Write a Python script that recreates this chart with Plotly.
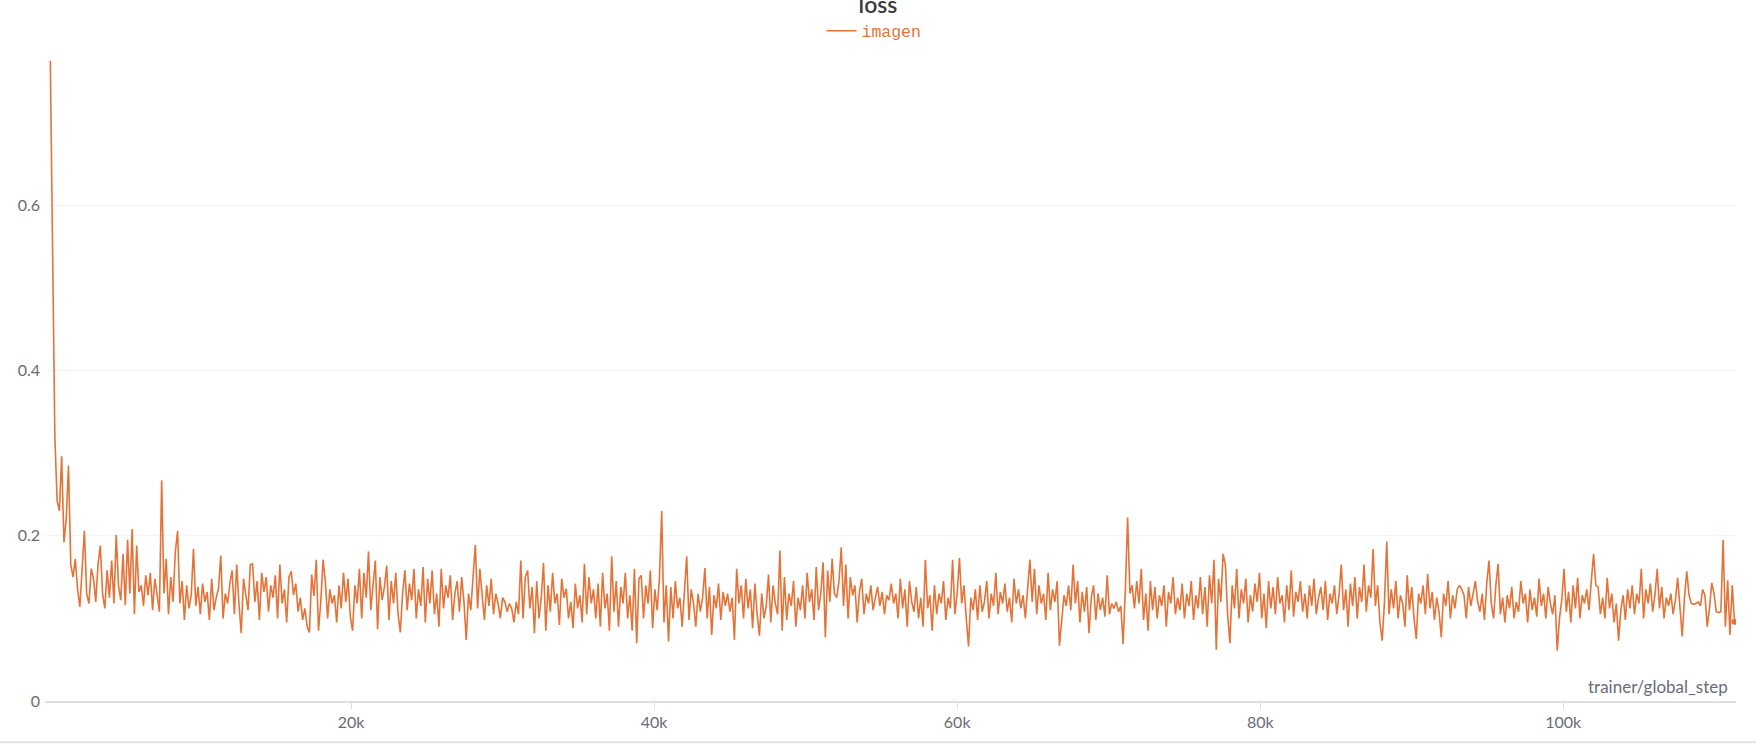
import plotly.graph_objects as go

# logged every 150 steps, first log at step 150
step_start = 150
step_every = 150

loss = [
    0.775, 0.52, 0.32, 0.242, 0.23, 0.296, 0.192, 0.22, 0.285, 0.165, 0.15, 0.172, 0.135, 0.114, 0.155, 0.206, 0.13, 0.118, 0.16, 0.148,
    0.12, 0.165, 0.188, 0.13, 0.112, 0.158, 0.125, 0.17, 0.118, 0.201, 0.14, 0.122, 0.178, 0.116, 0.195, 0.13, 0.208, 0.105, 0.188, 0.132,
    0.14, 0.115, 0.152, 0.128, 0.155, 0.11, 0.148, 0.125, 0.108, 0.267, 0.13, 0.172, 0.105, 0.15, 0.12, 0.18, 0.206, 0.118, 0.145, 0.098,
    0.14, 0.112, 0.128, 0.184, 0.115, 0.138, 0.105, 0.142, 0.12, 0.132, 0.098, 0.148, 0.11, 0.125, 0.136, 0.176, 0.1, 0.13, 0.118, 0.142,
    0.158, 0.105, 0.165, 0.118, 0.082, 0.148, 0.13, 0.11, 0.165, 0.166, 0.12, 0.145, 0.098, 0.155, 0.132, 0.15, 0.108, 0.14, 0.125, 0.152,
    0.1, 0.165, 0.118, 0.135, 0.095, 0.15, 0.157, 0.128, 0.142, 0.108, 0.125, 0.098, 0.112, 0.09, 0.083, 0.153, 0.127, 0.171, 0.085, 0.12,
    0.171, 0.145, 0.1, 0.135, 0.118, 0.128, 0.095, 0.14, 0.112, 0.155, 0.12, 0.148, 0.102, 0.085, 0.14, 0.118, 0.16, 0.1, 0.155, 0.125,
    0.181, 0.11, 0.14, 0.17, 0.087, 0.15, 0.122, 0.138, 0.164, 0.098, 0.145, 0.118, 0.155, 0.105, 0.083, 0.13, 0.158, 0.11, 0.142, 0.122,
    0.16, 0.1, 0.135, 0.115, 0.162, 0.095, 0.148, 0.118, 0.158, 0.105, 0.13, 0.09, 0.16, 0.112, 0.14, 0.125, 0.152, 0.098, 0.13, 0.145,
    0.108, 0.15, 0.12, 0.074, 0.13, 0.11, 0.15, 0.189, 0.112, 0.16, 0.128, 0.098, 0.14, 0.115, 0.148, 0.105, 0.13, 0.118, 0.1, 0.125,
    0.12, 0.108, 0.118, 0.112, 0.095, 0.12, 0.105, 0.17, 0.1, 0.15, 0.158, 0.112, 0.138, 0.082, 0.145, 0.1, 0.125, 0.167, 0.085, 0.14,
    0.108, 0.155, 0.118, 0.13, 0.092, 0.148, 0.125, 0.136, 0.1, 0.12, 0.088, 0.142, 0.112, 0.128, 0.095, 0.166, 0.105, 0.15, 0.118, 0.135,
    0.1, 0.142, 0.09, 0.155, 0.112, 0.13, 0.085, 0.175, 0.108, 0.145, 0.09, 0.138, 0.118, 0.155, 0.1, 0.128, 0.085, 0.16, 0.07, 0.148,
    0.152, 0.1, 0.14, 0.118, 0.158, 0.088, 0.135, 0.11, 0.148, 0.23, 0.095, 0.14, 0.072, 0.138, 0.1, 0.145, 0.112, 0.125, 0.09, 0.14,
    0.175, 0.098, 0.135, 0.118, 0.09, 0.13, 0.108, 0.125, 0.161, 0.1, 0.138, 0.08, 0.128, 0.112, 0.142, 0.098, 0.132, 0.115, 0.13, 0.108,
    0.125, 0.074, 0.16, 0.118, 0.14, 0.1, 0.148, 0.112, 0.135, 0.088, 0.142, 0.105, 0.079, 0.13, 0.1, 0.115, 0.153, 0.095, 0.14, 0.118,
    0.105, 0.182, 0.085, 0.15, 0.098, 0.13, 0.115, 0.145, 0.09, 0.125, 0.11, 0.14, 0.1, 0.155, 0.12, 0.135, 0.098, 0.162, 0.11, 0.13,
    0.168, 0.077, 0.158, 0.12, 0.172, 0.13, 0.125, 0.145, 0.186, 0.115, 0.165, 0.1, 0.15, 0.128, 0.14, 0.095, 0.132, 0.148, 0.105, 0.13,
    0.118, 0.14, 0.11, 0.125, 0.138, 0.115, 0.132, 0.105, 0.128, 0.122, 0.142, 0.118, 0.13, 0.1, 0.148, 0.112, 0.135, 0.09, 0.145, 0.12,
    0.108, 0.138, 0.1, 0.125, 0.09, 0.171, 0.112, 0.128, 0.085, 0.14, 0.105, 0.13, 0.118, 0.145, 0.098, 0.125, 0.112, 0.171, 0.105, 0.13,
    0.173, 0.118, 0.14, 0.1, 0.066, 0.125, 0.11, 0.135, 0.098, 0.14, 0.108, 0.12, 0.145, 0.1, 0.13, 0.115, 0.155, 0.105, 0.132, 0.118,
    0.142, 0.108, 0.125, 0.095, 0.148, 0.118, 0.135, 0.112, 0.128, 0.1, 0.138, 0.171, 0.12, 0.16, 0.105, 0.14, 0.118, 0.13, 0.098, 0.155,
    0.11, 0.135, 0.12, 0.145, 0.067, 0.1, 0.128, 0.115, 0.14, 0.11, 0.165, 0.118, 0.145, 0.095, 0.132, 0.108, 0.138, 0.082, 0.125, 0.14,
    0.098, 0.13, 0.11, 0.125, 0.102, 0.152, 0.105, 0.118, 0.112, 0.12, 0.108, 0.115, 0.069, 0.135, 0.222, 0.13, 0.14, 0.112, 0.145, 0.118,
    0.16, 0.098, 0.13, 0.085, 0.145, 0.11, 0.138, 0.1, 0.128, 0.115, 0.14, 0.09, 0.132, 0.118, 0.15, 0.105, 0.125, 0.11, 0.142, 0.1,
    0.13, 0.115, 0.145, 0.098, 0.128, 0.112, 0.15, 0.105, 0.138, 0.09, 0.152, 0.118, 0.171, 0.062, 0.148, 0.12, 0.178, 0.165, 0.105, 0.07,
    0.14, 0.112, 0.16, 0.1, 0.135, 0.118, 0.148, 0.095, 0.128, 0.108, 0.142, 0.12, 0.155, 0.1, 0.13, 0.088, 0.145, 0.112, 0.138, 0.105,
    0.15, 0.118, 0.128, 0.095, 0.14, 0.11, 0.158, 0.102, 0.132, 0.12, 0.145, 0.108, 0.13, 0.1, 0.14, 0.115, 0.148, 0.105, 0.125, 0.138,
    0.11, 0.145, 0.098, 0.13, 0.118, 0.14, 0.105, 0.128, 0.165, 0.11, 0.135, 0.09, 0.142, 0.115, 0.15, 0.1, 0.138, 0.12, 0.165, 0.108,
    0.14, 0.125, 0.184, 0.115, 0.14, 0.095, 0.073, 0.12, 0.193, 0.105, 0.135, 0.112, 0.145, 0.1, 0.128, 0.118, 0.09, 0.152, 0.11, 0.138,
    0.1, 0.075, 0.13, 0.118, 0.14, 0.105, 0.154, 0.112, 0.132, 0.098, 0.125, 0.108, 0.077, 0.13, 0.115, 0.145, 0.1, 0.128, 0.112, 0.135,
    0.14, 0.135, 0.128, 0.1, 0.138, 0.115, 0.132, 0.145, 0.12, 0.108, 0.13, 0.098, 0.142, 0.17, 0.118, 0.1, 0.14, 0.166, 0.105, 0.125,
    0.095, 0.128, 0.112, 0.138, 0.1, 0.12, 0.108, 0.145, 0.118, 0.13, 0.095, 0.135, 0.11, 0.125, 0.102, 0.148, 0.115, 0.13, 0.1, 0.138,
    0.118, 0.105, 0.128, 0.061, 0.1, 0.122, 0.16, 0.108, 0.132, 0.095, 0.14, 0.112, 0.149, 0.1, 0.128, 0.118, 0.135, 0.11, 0.145, 0.178,
    0.14, 0.138, 0.105, 0.125, 0.1, 0.149, 0.112, 0.13, 0.095, 0.118, 0.073, 0.11, 0.128, 0.098, 0.135, 0.112, 0.14, 0.105, 0.13, 0.118,
    0.16, 0.1, 0.135, 0.118, 0.142, 0.108, 0.128, 0.16, 0.112, 0.138, 0.1, 0.125, 0.115, 0.13, 0.105, 0.122, 0.149, 0.11, 0.078, 0.125,
    0.157, 0.128, 0.118, 0.117, 0.118, 0.12, 0.115, 0.135, 0.128, 0.09, 0.112, 0.143, 0.13, 0.108, 0.107, 0.108, 0.195, 0.09, 0.146, 0.08,
    0.14, 0.096,
]

steps = [step_start + i * step_every for i in range(len(loss))]

x_tickvals = [20000, 40000, 60000, 80000, 100000]
x_ticktext = ["20k", "40k", "60k", "80k", "100k"]
y_tickvals = [0, 0.2, 0.4, 0.6]

run_name = "imagen"
orange = "rgb(229,115,55)"
grey = "#6b6b76"

fig = go.Figure()
fig.add_trace(go.Scatter(x=steps, y=loss, mode="lines", name=run_name,
                         line=dict(color=orange, width=1.6)))
# dot on the last logged point
fig.add_trace(go.Scatter(x=steps[-1:], y=loss[-1:], mode="markers", showlegend=False,
                         marker=dict(color=orange, size=6)))

fig.update_layout(
    width=1756, height=746,
    plot_bgcolor="white", paper_bgcolor="white",
    margin=dict(l=45, r=20, t=50, b=45),
    font=dict(family="Lato, Noto Sans, sans-serif", color=grey, size=16),
    title=dict(text="loss", x=0.5, xref="container", xanchor="center",
               y=1 - 5 / 746, yref="container", yanchor="middle",
               font=dict(size=23, color="#3b3b40", weight=600)),
    showlegend=True,
    legend=dict(orientation="h", x=0.5 - 4 / 1756, xref="container", xanchor="center",
                y=1 - 31 / 746, yref="container", yanchor="middle",
                font=dict(family="Liberation Mono, DejaVu Sans Mono, monospace", size=16.5, color=orange),
                itemwidth=30),
    xaxis=dict(range=[-200, 111400], showgrid=False, zeroline=False,
               showline=True, linecolor="#dedede", linewidth=2,
               ticks="outside", ticklen=6, tickcolor="#dedede",
               tickvals=x_tickvals, ticktext=x_ticktext,
               tickfont=dict(size=16, color=grey)),
    yaxis=dict(range=[0, 0.775], showgrid=True, gridcolor="#f3f3f3", gridwidth=1,
               zeroline=False, showline=False, tickvals=y_tickvals,
               ticklabelstandoff=4,
               tickfont=dict(size=16, color=grey)),
)

fig.add_annotation(text="trainer/global_step", xref="paper", yref="paper",
                   x=1, y=0, xanchor="right", yanchor="bottom", xshift=-6, yshift=2,
                   showarrow=False, font=dict(size=17, color=grey))

# panel border at the very bottom
fig.add_shape(type="line", xref="paper", yref="paper",
              x0=-45 / 1691, x1=1 + 20 / 1691, y0=-42 / 651, y1=-42 / 651,
              line=dict(color="#e2e2e2", width=2))

# drop the page's default 8px body margin so the figure sits at the window corner
fig.write_html("out.html", config={"displayModeBar": False},
               post_script="document.body.style.margin='0';")
